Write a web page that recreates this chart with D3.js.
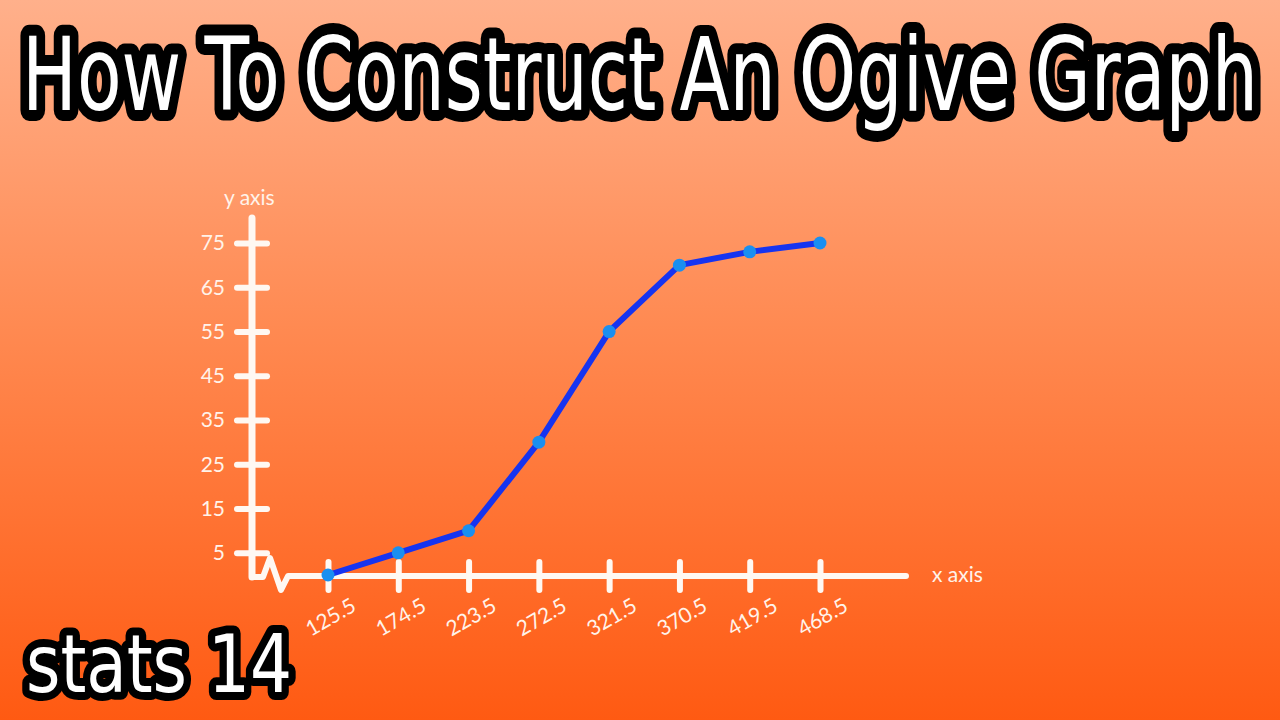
<!DOCTYPE html>
<html>
<head>
<meta charset="utf-8">
<script src="https://cdn.jsdelivr.net/npm/d3@7"></script>
<style>
  html, body { margin: 0; padding: 0; overflow: hidden; }
  svg { display: block; }
  .lbl { font-family: Lato, "Open Sans", sans-serif; fill: #fff3ea; font-size: 21px; }
</style>
</head>
<body>
<svg width="1280" height="720"></svg>
<script>
const width = 1280;
const height = 720;

// ogive data: upper class boundaries vs cumulative frequency
const boundaries = [125.5, 174.5, 223.5, 272.5, 321.5, 370.5, 419.5, 468.5];
const cumFreq = [0, 5, 10, 30, 55, 70, 73, 75];
const yTicks = [5, 15, 25, 35, 45, 55, 65, 75];

const svg = d3.select('svg');

// background gradient
const defs = svg.append('defs');
const grad = defs.append('linearGradient').attr('id', 'bg').attr('x1', 0).attr('y1', 0).attr('x2', 0).attr('y2', 1);
grad.append('stop').attr('offset', '0%').attr('stop-color', '#ffb08b');
grad.append('stop').attr('offset', '45%').attr('stop-color', '#ff8a52');
grad.append('stop').attr('offset', '100%').attr('stop-color', '#ff5a12');
svg.append('rect').attr('width', width).attr('height', height).attr('fill', 'url(#bg)');

const x = d3.scaleLinear().domain([125.5, 468.5]).range([328, 820]);
const y = d3.scaleLinear().domain([0, 75]).range([575, 243]);

const axisColor = '#fff8f2';

// y axis
const yAxis = svg.append('g')
    .attr('transform', 'translate(252,0)')
    .call(d3.axisLeft(y).tickValues(yTicks).tickSize(0).tickPadding(27));
yAxis.select('.domain').remove();
yAxis.selectAll('.tick line')
    .attr('x1', -15).attr('x2', 15)
    .attr('stroke', axisColor).attr('stroke-width', 6).attr('stroke-linecap', 'round');
yAxis.selectAll('.tick text').attr('class', 'lbl').attr('font-size', null).attr('font-family', null);
svg.append('line')
    .attr('x1', 252).attr('x2', 252).attr('y1', 218).attr('y2', 577)
    .attr('stroke', axisColor).attr('stroke-width', 7).attr('stroke-linecap', 'round');

// x axis with break symbol
svg.append('path')
    .attr('d', d3.line()([[252, 577], [263, 577], [270, 558], [281, 590], [288, 576], [906, 576]]))
    .attr('fill', 'none').attr('stroke', axisColor).attr('stroke-width', 6)
    .attr('stroke-linecap', 'round').attr('stroke-linejoin', 'round');

const xAxis = svg.append('g')
    .attr('transform', 'translate(0,576)')
    .call(d3.axisBottom(x).tickValues(boundaries).tickSize(0).tickFormat(d3.format('.1f')));
xAxis.select('.domain').remove();
xAxis.selectAll('.tick line')
    .attr('y1', -14).attr('y2', 14)
    .attr('stroke', axisColor).attr('stroke-width', 6).attr('stroke-linecap', 'round');
xAxis.selectAll('.tick text')
    .attr('class', 'lbl').attr('font-size', null).attr('font-family', null)
    .attr('y', null).attr('dy', null)
    .attr('text-anchor', 'end')
    .attr('transform', 'translate(29,34) rotate(-30)');

svg.append('text').attr('class', 'lbl').attr('x', 932).attr('y', 582).text('x axis');
svg.append('text').attr('class', 'lbl').attr('x', 224).attr('y', 205).text('y axis');

// ogive line
const pts = boundaries.map((b, i) => [x(b), y(cumFreq[i])]);
svg.append('path')
    .attr('d', d3.line()(pts))
    .attr('fill', 'none').attr('stroke', '#1634f0').attr('stroke-width', 6)
    .attr('stroke-linejoin', 'round');
svg.selectAll('.pt')
    .data(boundaries)
    .join('circle')
    .attr('class', 'pt')
    .attr('cx', d => x(d))
    .attr('cy', (d, i) => y(cumFreq[i]))
    .attr('r', 6.5)
    .attr('fill', '#1a8ff0');

// title texts with thick black outline
function outlined(txt, xPos, yPos, size, len, sw) {
    svg.append('text')
        .attr('x', xPos).attr('y', yPos)
        .attr('font-family', '"DejaVu Sans Condensed", "Open Sans", sans-serif')
        .attr('font-size', size)
        .attr('textLength', len).attr('lengthAdjust', 'spacingAndGlyphs')
        .attr('fill', '#fff')
        .attr('stroke', '#000').attr('stroke-width', sw)
        .attr('stroke-linejoin', 'round')
        .attr('paint-order', 'stroke')
        .text(txt);
}
outlined('How To Construct An Ogive Graph', 22, 110, 102, 1236, 22);
outlined('stats 14', 26, 692, 80, 266, 16);
</script>
</body>
</html>
